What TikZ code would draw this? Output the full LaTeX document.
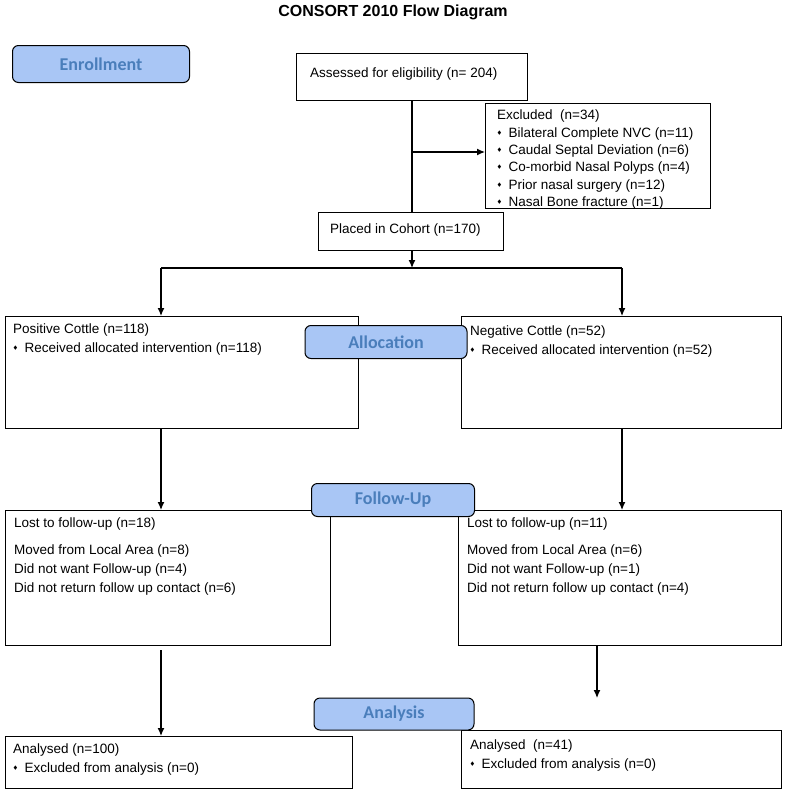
\documentclass[tikz,border=0pt]{standalone}
\usepackage{fontspec}
\usepackage{amssymb}
\setmainfont{Liberation Sans}
\newfontfamily\hdfont{Carlito}
\usetikzlibrary{arrows.meta,positioning}
\definecolor{hdfill}{HTML}{A9C6F5}
\definecolor{hdtext}{HTML}{4A7EBB}
\newcommand{\bul}{\raisebox{3pt}{\tiny$\blacklozenge$}\hspace{0.5em}}
\begin{document}
\begin{tikzpicture}[x=1pt,y=-1pt,
    box/.style={draw, line width=1pt, anchor=north west, inner sep=0pt},
    txt/.style={anchor=north west, align=left, font=\fontsize{13.5}{19}\selectfont, inner sep=0pt},
    header/.style={draw, line width=1pt, rounded corners=6pt, fill=hdfill, inner sep=0pt,
      font=\hdfont\bfseries\fontsize{18}{20}\selectfont, text=hdtext},
    arrow/.style={line width=1.2pt, -{Latex[length=8pt,width=7pt]}},
    ]
\useasboundingbox (0,0) rectangle (785,790);
\node[font=\bfseries\fontsize{16}{18}\selectfont] (title) at (393,12) {CONSORT 2010 Flow Diagram};
% boxes
\node[box, minimum width=231, minimum height=47] (assess) at (296,53) {};
\node[txt] at (310,68) {Assessed for eligibility (n= 204)};
\node[box, minimum width=225, minimum height=105] (excl) at (485,103) {};
\node[txt, font=\fontsize{13.5}{17.3}\selectfont] at (497,110) {Excluded\ \ (n=34)\\
  \bul Bilateral Complete NVC (n=11)\\
  \bul Caudal Septal Deviation (n=6)\\
  \bul Co-morbid Nasal Polyps (n=4)\\
  \bul Prior nasal surgery (n=12)\\
  \bul Nasal Bone fracture (n=1)};
\node[box, minimum width=185, minimum height=38] (cohort) at (318,212) {};
\node[txt] at (330,224) {Placed in Cohort (n=170)};
\node[box, minimum width=353, minimum height=112] (pos) at (5,316) {};
\node[txt] at (13,324) {Positive Cottle (n=118)\\\bul Received allocated intervention (n=118)};
\node[box, minimum width=320, minimum height=112] (neg) at (461,316) {};
\node[txt] at (470,326) {Negative Cottle (n=52)\\\bul Received allocated intervention (n=52)};
\node[box, minimum width=325, minimum height=135] (lostL) at (5,510) {};
\node[txt] at (14,518) {Lost to follow-up (n=18)\\[8pt]
  Moved from Local Area (n=8)\\Did not want Follow-up (n=4)\\Did not return follow up contact (n=6)};
\node[box, minimum width=323, minimum height=135] (lostR) at (458,510) {};
\node[txt] at (467,518) {Lost to follow-up (n=11)\\[8pt]
  Moved from Local Area (n=6)\\Did not want Follow-up (n=1)\\Did not return follow up contact (n=4)};
\node[box, minimum width=347, minimum height=52] (anaL) at (5,736) {};
\node[txt] at (13,744) {Analysed (n=100)\\\bul Excluded from analysis (n=0)};
\node[box, minimum width=320, minimum height=58] (anaR) at (461,730) {};
\node[txt] at (470,740) {Analysed\ \ (n=41)\\\bul Excluded from analysis (n=0)};
% headers
\node[header, minimum width=177, minimum height=37] (enroll) at (101,64) {Enrollment};
\node[header, minimum width=162, minimum height=33] (alloc) at (386,342) {Allocation};
\node[header, minimum width=163, minimum height=33] (follow) at (393,500) {Follow-Up};
\node[header, minimum width=160, minimum height=32] (analysis) at (394,714) {Analysis};
% connectors
\coordinate (split) at (412,268);
\coordinate (mid) at (412,152);
\draw[line width=1.2pt] (assess.south -| split) -- (cohort.north -| split);
\draw[arrow] (mid) -- (mid -| excl.west);
\draw[arrow] (cohort.south -| split) -- (split);
\draw[line width=1.2pt] (161,268) -- (622,268);
\draw[arrow] (161,268) -- (pos.north -| 161,0);
\draw[arrow] (622,268) -- (neg.north -| 622,0);
\draw[arrow] (pos.south -| 161,0) -- (lostL.north -| 161,0);
\draw[arrow] (neg.south -| 622,0) -- (lostR.north -| 622,0);
\draw[arrow] (161,650) -- (anaL.north -| 161,0);
\draw[arrow] (lostR.south -| 597,0) -- (597,698);
\end{tikzpicture}
\end{document}
